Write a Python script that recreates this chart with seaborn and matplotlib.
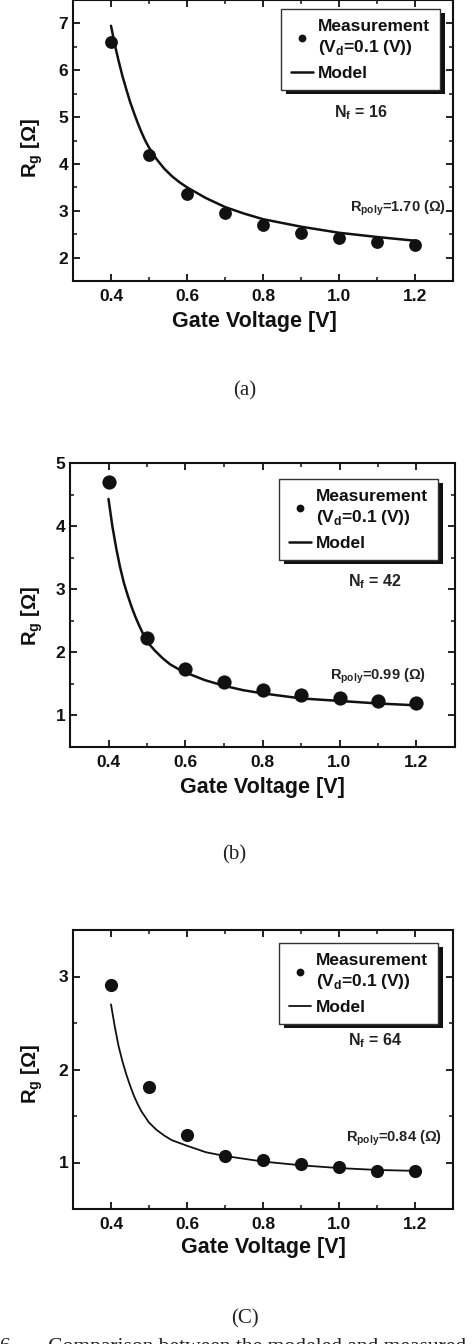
import matplotlib as mpl
mpl.use('Agg')
import matplotlib.pyplot as plt
from matplotlib.lines import Line2D
from matplotlib.patches import Rectangle
from matplotlib.ticker import MultipleLocator
import seaborn as sns

W, H = 474, 1344

vg = [0.4, 0.5, 0.6, 0.7, 0.8, 0.9, 1.0, 1.1, 1.2]
xticks = [0.4, 0.6, 0.8, 1.0, 1.2]

meas_a = [6.6, 4.18, 3.36, 2.95, 2.7, 2.53, 2.42, 2.33, 2.26]
meas_b = [4.7, 2.23, 1.73, 1.53, 1.4, 1.32, 1.27, 1.23, 1.2]
meas_c = [2.91, 1.81, 1.3, 1.07, 1.03, 0.98, 0.95, 0.91, 0.91]

model_x = [0.40, 0.41, 0.42, 0.43, 0.44, 0.45, 0.46, 0.47, 0.48, 0.49, 0.50, 0.52, 0.54, 0.56, 0.58,
           0.60, 0.65, 0.70, 0.75, 0.80, 0.90, 1.00, 1.10, 1.20]
model_a = [6.95, 6.55, 6.2, 5.88, 5.6, 5.33, 5.1, 4.88, 4.68, 4.5, 4.35, 4.1, 3.9, 3.74, 3.61,
           3.5, 3.27, 3.08, 2.94, 2.82, 2.66, 2.53, 2.44, 2.36]
model_b = [4.43, 4.0, 3.65, 3.35, 3.1, 2.9, 2.72, 2.56, 2.42, 2.29, 2.17, 2.03, 1.91, 1.81, 1.74,
           1.68, 1.56, 1.47, 1.4, 1.35, 1.27, 1.23, 1.19, 1.16]
model_c = [2.7, 2.46, 2.25, 2.09, 1.95, 1.83, 1.72, 1.63, 1.55, 1.49, 1.43, 1.35, 1.29, 1.24, 1.21,
           1.18, 1.11, 1.07, 1.04, 1.01, 0.97, 0.94, 0.92, 0.91]

sns.set_theme(style='ticks')
plt.rcParams['font.family'] = ['Liberation Sans', 'DejaVu Sans']
plt.rcParams['mathtext.fontset'] = 'custom'
plt.rcParams['mathtext.bf'] = 'Liberation Sans:bold'
plt.rcParams['mathtext.rm'] = 'Liberation Sans:bold'

fig = plt.figure(figsize=(W / 100, H / 100), dpi=100)


def add_panel(box, meas, model, ylim, yticks, ylabel_y, nf, nf_pos, rpoly, rpoly_pos, legend_box, xlabel_pos, lw, msize):
    left, top, right, bottom = box
    ax = fig.add_axes([left / W, 1 - bottom / H, (right - left) / W, (bottom - top) / H])
    sns.lineplot(x=model_x, y=model, color='#111111', linewidth=lw, ax=ax, errorbar=None, estimator=None, sort=False)
    sns.scatterplot(x=vg, y=meas, color='#111111', s=msize, linewidth=0, ax=ax, zorder=3)

    ax.set_xlim(0.3, 1.3)
    ax.set_ylim(*ylim)
    ax.set_xticks(xticks)
    ax.set_xticklabels(['{:.1f}'.format(t) for t in xticks])
    ax.set_yticks(yticks)
    ax.xaxis.set_minor_locator(MultipleLocator(0.1))
    ax.yaxis.set_minor_locator(MultipleLocator(0.5))
    ax.tick_params(which='major', direction='in', length=5, width=1.3, top=True, right=True, colors='#111111', labelsize=12.5)
    ax.tick_params(which='minor', direction='in', length=3, width=1.1, top=True, right=True, colors='#111111')
    ax.tick_params(axis='x', which='major', pad=5.5)
    ax.tick_params(axis='y', which='major', pad=3.5)
    for label in ax.get_xticklabels() + ax.get_yticklabels():
        label.set_fontweight('bold')
    for spine in ax.spines.values():
        spine.set_linewidth(1.5)
        spine.set_color('#111111')

    fig.text(xlabel_pos[0] / W, 1 - xlabel_pos[1] / H, 'Gate Voltage [V]', ha='center', va='center', fontsize=15.5, fontweight='bold', color='#111111')
    fig.text(32 / W, 1 - ylabel_y / H, r'R$_{\mathbf{g}}$ [Ω]', rotation=90, ha='center', va='center', fontsize=14.5, fontweight='bold', color='#111111')

    fig.text(nf_pos[0] / W, 1 - nf_pos[1] / H, nf, ha='center', va='center', fontsize=11.5, fontweight='bold', color='#222222')
    fig.text(rpoly_pos[0] / W, 1 - rpoly_pos[1] / H, rpoly, ha='center', va='center', fontsize=10.5, fontweight='bold', color='#222222')

    # legend box with the hard offset shadow from the original plot
    handles = [
        Line2D([], [], marker='o', linestyle='none', color='#111111', markersize=4.6),
        Line2D([], [], color='#111111', linewidth=lw),
    ]
    labels = ['Measurement\n(V$_{\\mathbf{d}}$=0.1 (V))', 'Model']
    leg = ax.legend(handles, labels, loc='upper left', bbox_to_anchor=(legend_box[0] / W, 1 - legend_box[1] / H), bbox_transform=fig.transFigure,
                    frameon=True, fancybox=False, framealpha=1, edgecolor='#333333', borderaxespad=0, borderpad=0.55,
                    handlelength=1.3, handletextpad=0.3, labelspacing=0.5, prop={'family': 'Liberation Sans', 'weight': 'bold', 'size': 12.5},
                    labelcolor='#111111')
    leg.get_frame().set_linewidth(1)
    for t in leg.get_texts():
        t.set_linespacing(1.3)
    fig.canvas.draw()
    bb = leg.get_frame().get_window_extent()
    ax.add_patch(Rectangle((bb.x0 + 5, bb.y0 - 4), bb.width, bb.height, transform=None, facecolor='#111111', edgecolor='none', zorder=4, clip_on=False))
    return ax


add_panel((73, 0, 453, 281), meas_a, model_a, (1.5, 7.5), [2, 3, 4, 5, 6, 7], 148,
          r'N$_{\mathbf{f}}$ = 16', (361, 113), r'R$_{\mathbf{poly}}$=1.70 (Ω)', (398, 208), (281, 9), (254, 322), 1.8, 85)
add_panel((70, 463, 455, 747), meas_b, model_b, (0.5, 5), [1, 2, 3, 4, 5], 616,
          r'N$_{\mathbf{f}}$ = 42', (375, 582), r'R$_{\mathbf{poly}}$=0.99 (Ω)', (378, 676), (279, 479), (262, 787), 1.8, 105)
add_panel((73, 930, 453, 1209), meas_c, model_c, (0.5, 3.5), [1, 2, 3], 1074,
          r'N$_{\mathbf{f}}$ = 64', (375, 1041), r'R$_{\mathbf{poly}}$=0.84 (Ω)', (394, 1138), (279, 943), (263, 1247), 1.3, 90)

for txt, x, y in [('(a)', 245, 391), ('(b)', 234, 855), ('(C)', 245, 1319)]:
    fig.text(x / W, 1 - y / H, txt, ha='center', va='center', fontsize=15, family='Liberation Serif', color='#222222')

fig.text(0 / W, 1 - 1352 / H, '6.      Comparison between the modeled and measured', ha='left', va='baseline', fontsize=15.5, family='Liberation Serif', color='#222222')

fig.savefig('out.png', dpi=100)
